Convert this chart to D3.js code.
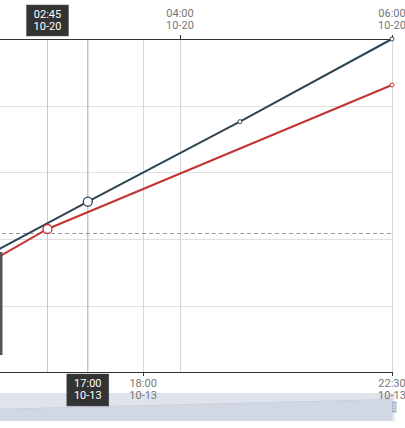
<!DOCTYPE html>
<html>
<head>
<meta charset="utf-8">
<script src="https://cdn.jsdelivr.net/npm/d3@7"></script>
<style>
  html, body { margin: 0; padding: 0; background: #fff; overflow: hidden; }
  svg { display: block; font-family: Roboto, "Liberation Sans", sans-serif; }
</style>
</head>
<body>
<div id="chart"></div>
<script>
// series on the bottom x axis (10-13)
const bottomTimes = ['2023-10-13 14:15', '2023-10-13 17:00', '2023-10-13 19:45', '2023-10-13 22:30'];
const bottomValues = [67, 128, 188, 250];
// series on the top x axis (10-20)
const topTimes = ['2023-10-20 01:00', '2023-10-20 02:45', '2023-10-20 06:00'];
const topValues = [28, 107.5, 215.5];

const bottomDomain = ['2023-10-13 12:55', '2023-10-13 22:30'];
const topDomain = ['2023-10-20 01:00', '2023-10-20 06:00'];
const bottomTicks = ['2023-10-13 18:00', '2023-10-13 22:30'];
const topTicks = ['2023-10-20 04:00', '2023-10-20 06:00'];
const yTicks = [0, 50, 100, 150, 200, 250];

// where the pointer sits
const bottomPointer = '2023-10-13 17:00';
const topPointer = '2023-10-20 02:45';
const yPointer = 104.5;

const parse = d3.timeParse('%Y-%m-%d %H:%M');
const fmtTime = d3.timeFormat('%H:%M');
const fmtDay = d3.timeFormat('%m-%d');

var lineChart = function() {
  let width = 405;
  let height = 428;
  let grid = {left: -138, right: 392, top: 39, bottom: 372.3};
  let slider = {top: 393, bottom: 421, right: 394.5};
  let fontSize = 11;
  let lineGap = 12;
  const darkColor = '#2f4554';
  const redColor = '#c23531';

  function chart(selection) {
    selection.selectAll('*').remove();

    const svg = selection.append('svg')
      .attr('width', width)
      .attr('height', height);

    const xBottom = d3.scaleTime().domain(bottomDomain.map(parse)).range([grid.left, grid.right]);
    const xTop = d3.scaleTime().domain(topDomain.map(parse)).range([grid.left, grid.right]);
    const y = d3.scaleLinear().domain([0, 250]).range([grid.bottom, grid.top]);

    const bottomData = bottomTimes.map((t, i) => ({t: parse(t), v: bottomValues[i]}));
    const topData = topTimes.map((t, i) => ({t: parse(t), v: topValues[i]}));

    svg.append('defs').append('clipPath').attr('id', 'clip')
      .append('rect')
      .attr('x', grid.left).attr('y', grid.top - 6)
      .attr('width', grid.right - grid.left + 6).attr('height', grid.bottom - grid.top + 12);

    // split lines
    const gGrid = svg.append('g').attr('shape-rendering', 'crispEdges');
    gGrid.selectAll('line.h')
      .data(yTicks.slice(1, -1))
      .join('line')
        .attr('class', 'h')
        .attr('x1', grid.left).attr('x2', grid.right)
        .attr('y1', d => Math.round(y(d)) + 0.5).attr('y2', d => Math.round(y(d)) + 0.5)
        .attr('stroke', '#e0e0e0');
    gGrid.selectAll('line.vb')
      .data(bottomTicks.map(parse))
      .join('line')
        .attr('class', 'vb')
        .attr('x1', d => xBottom(d)).attr('x2', d => xBottom(d))
        .attr('y1', grid.top).attr('y2', grid.bottom)
        .attr('stroke', '#d6d6d6');
    gGrid.selectAll('line.vt')
      .data(topTicks.map(parse))
      .join('line')
        .attr('class', 'vt')
        .attr('x1', d => xTop(d)).attr('x2', d => xTop(d))
        .attr('y1', grid.top).attr('y2', grid.bottom)
        .attr('stroke', '#d6d6d6');

    // axis pointers
    const gPointer = svg.append('g');
    gPointer.append('line')
      .attr('x1', xTop(parse(topPointer))).attr('x2', xTop(parse(topPointer)))
      .attr('y1', grid.top).attr('y2', grid.bottom)
      .attr('stroke', '#c8c8c8');
    gPointer.append('line')
      .attr('x1', xBottom(parse(bottomPointer))).attr('x2', xBottom(parse(bottomPointer)))
      .attr('y1', grid.top).attr('y2', grid.bottom)
      .attr('stroke', '#a8a8a8');
    gPointer.append('line')
      .attr('x1', grid.left).attr('x2', grid.right)
      .attr('y1', Math.round(y(yPointer)) + 0.5).attr('y2', Math.round(y(yPointer)) + 0.5)
      .attr('stroke', '#999')
      .attr('stroke-dasharray', '4,3');

    // axis lines + ticks
    const gAxis = svg.append('g').attr('stroke', '#333').attr('shape-rendering', 'crispEdges');
    gAxis.append('line')
      .attr('x1', grid.left).attr('x2', grid.right)
      .attr('y1', grid.top).attr('y2', grid.top);
    gAxis.append('line')
      .attr('x1', grid.left).attr('x2', grid.right)
      .attr('y1', grid.bottom).attr('y2', grid.bottom);
    gAxis.selectAll('line.tt')
      .data(topTicks.map(parse))
      .join('line')
        .attr('class', 'tt')
        .attr('x1', d => xTop(d)).attr('x2', d => xTop(d))
        .attr('y1', grid.top - 4).attr('y2', grid.top);
    gAxis.selectAll('line.tb')
      .data(bottomTicks.map(parse))
      .join('line')
        .attr('class', 'tb')
        .attr('x1', d => xBottom(d)).attr('x2', d => xBottom(d))
        .attr('y1', grid.bottom).attr('y2', grid.bottom + 4);

    // data zoom slider
    const ySlider = d3.scaleLinear().domain([0, 400]).range([415, 390]);
    const gSlider = svg.append('g');
    gSlider.append('rect')
      .attr('x', grid.left).attr('y', slider.top)
      .attr('width', slider.right - grid.left).attr('height', slider.bottom - slider.top)
      .attr('fill', '#dfe4ec');
    gSlider.append('path')
      .datum(bottomData)
      .attr('fill', '#d1d8e3')
      .attr('d', d3.area()
        .x(d => xBottom(d.t))
        .y0(slider.bottom)
        .y1(d => ySlider(d.v)));
    gSlider.append('path')
      .datum(bottomData)
      .attr('fill', 'none')
      .attr('stroke', '#c9d1dd')
      .attr('d', d3.line()
        .x(d => xBottom(d.t))
        .y(d => ySlider(d.v)));
    const handle = gSlider.append('g')
      .attr('transform', `translate(${grid.right}, ${(slider.top + slider.bottom) / 2})`);
    handle.append('rect')
      .attr('x', 0).attr('y', -5.5).attr('width', 4.5).attr('height', 11)
      .attr('fill', '#a7b7cc');
    handle.selectAll('line')
      .data([-2.5, 0, 2.5])
      .join('line')
        .attr('x1', 1).attr('x2', 3.5)
        .attr('y1', d => d).attr('y2', d => d)
        .attr('stroke', '#fff').attr('stroke-width', 0.8);

    // series
    const gSeries = svg.append('g').attr('clip-path', 'url(#clip)');
    gSeries.append('path')
      .datum(bottomData)
      .attr('fill', 'none')
      .attr('stroke', darkColor)
      .attr('stroke-width', 2)
      .attr('d', d3.line().x(d => xBottom(d.t)).y(d => y(d.v)));
    gSeries.append('path')
      .datum(topData)
      .attr('fill', 'none')
      .attr('stroke', redColor)
      .attr('stroke-width', 2)
      .attr('d', d3.line().x(d => xTop(d.t)).y(d => y(d.v)));

    const hotB = +parse(bottomPointer);
    const hotT = +parse(topPointer);
    gSeries.selectAll('circle.b')
      .data(bottomData)
      .join('circle')
        .attr('class', 'b')
        .attr('cx', d => xBottom(d.t)).attr('cy', d => y(d.v))
        .attr('r', d => +d.t === hotB ? 4.5 : 2)
        .attr('fill', '#fff')
        .attr('stroke', darkColor)
        .attr('stroke-width', d => +d.t === hotB ? 1.3 : 1);
    gSeries.selectAll('circle.t')
      .data(topData)
      .join('circle')
        .attr('class', 't')
        .attr('cx', d => xTop(d.t)).attr('cy', d => y(d.v))
        .attr('r', d => +d.t === hotT ? 4.5 : 2)
        .attr('fill', '#fff')
        .attr('stroke', redColor)
        .attr('stroke-width', d => +d.t === hotT ? 1.3 : 1);

    // edge of a box sitting off to the left
    svg.append('rect')
      .attr('x', 0).attr('y', 252).attr('width', 2.5).attr('height', 103)
      .attr('fill', '#555');

    // axis labels, two lines each
    const gLabels = svg.append('g')
      .attr('font-size', fontSize)
      .attr('fill', '#777')
      .attr('text-anchor', 'middle');
    function twoLines(g, cls, data, xf, y0) {
      g.selectAll('text.' + cls + '1')
        .data(data)
        .join('text')
          .attr('class', cls + '1')
          .attr('x', xf).attr('y', y0)
          .text(d => fmtTime(d));
      g.selectAll('text.' + cls + '2')
        .data(data)
        .join('text')
          .attr('class', cls + '2')
          .attr('x', xf).attr('y', y0 + lineGap)
          .text(d => fmtDay(d));
    }
    twoLines(gLabels, 'lt', topTicks.map(parse), d => xTop(d), 17.3);
    twoLines(gLabels, 'lb', bottomTicks.map(parse), d => xBottom(d), 386.8);

    // pointer labels
    function pointerLabel(x, y0, h, t) {
      const g = svg.append('g')
        .attr('text-anchor', 'middle')
        .attr('font-size', fontSize)
        .attr('fill', '#fff');
      g.append('rect')
        .attr('x', x - 21).attr('y', y0)
        .attr('width', 42).attr('height', h)
        .attr('fill', '#333')
        .attr('stroke', '#555').attr('stroke-width', 0.5);
      twoLines(g, 'p', [t], x, y0 + 12.5);
    }
    pointerLabel(xTop(parse(topPointer)), 5, 31, parse(topPointer));
    pointerLabel(xBottom(parse(bottomPointer)), 374, 32, parse(bottomPointer));
  }

  return chart;
};

lineChart()(d3.select('#chart'));
</script>
</body>
</html>
